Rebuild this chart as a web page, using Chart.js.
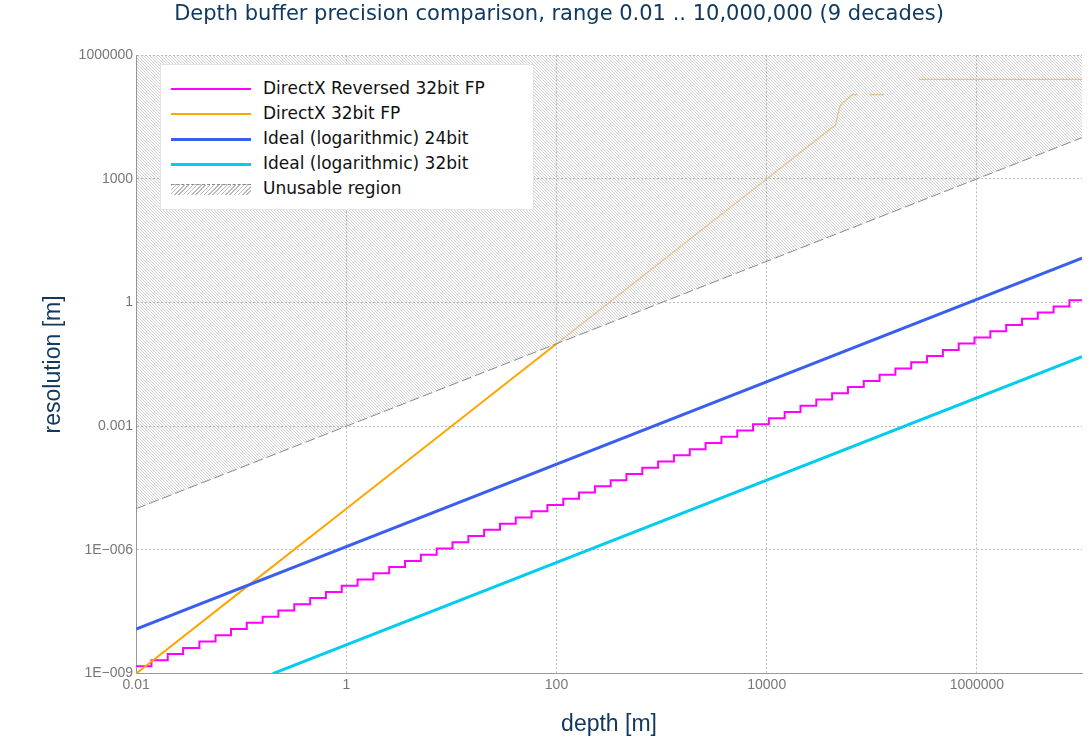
<!DOCTYPE html>
<html>
<head>
<meta charset="utf-8">
<script src="https://cdn.jsdelivr.net/npm/chart.js@4"></script>
<style>
  body { margin: 0; background: #fff; font-family: "DejaVu Sans", sans-serif; }
  #wrap { position: relative; width: 1090px; height: 750px; }
  #legend { position: absolute; left: 160px; top: 64px; width: 372px; height: 144px; background: #fff; border: 1px solid #e4e4e4; font-size: 17px; color: #111; }
  .row { position: absolute; left: 10px; height: 24px; line-height: 24px; }
  .sw { display: inline-block; width: 80px; height: 0; vertical-align: middle; margin-right: 12px; }
</style>
</head>
<body>
<div id="wrap">
  <canvas id="grafico" width="1090" height="750"></canvas>
  <div id="legend">
    <div class="row" style="top:11px"><span class="sw" style="border-top:2px solid #ff00ff"></span>DirectX Reversed 32bit FP</div>
    <div class="row" style="top:36px"><span class="sw" style="border-top:2px solid #ffa500"></span>DirectX 32bit FP</div>
    <div class="row" style="top:61px"><span class="sw" style="border-top:3px solid #3a5ef0"></span>Ideal (logarithmic) 24bit</div>
    <div class="row" style="top:86px"><span class="sw" style="border-top:3px solid #00ccee"></span>Ideal (logarithmic) 32bit</div>
    <div class="row" style="top:111px"><span class="sw" style="border-top:1px dashed #888;height:10px;background:repeating-linear-gradient(135deg,#bbb 0 1px,#fff 1px 3px)"></span>Unusable region</div>
  </div>
</div>
<script>
const xTicks = [0.01, 1, 100, 10000, 1000000]
const yTicks = [1e-9, 1e-6, 1e-3, 1, 1000, 1000000]
const yTickLabels = ['1E\u2212009', '1E\u2212006', '0.001', '1', '1000', '1000000']

const reversedX = [0.01,0.014,0.02,0.028,0.04,0.057,0.08,0.113,0.16,0.226,0.32,0.453,0.64,0.905,1.28,1.81,2.56,3.62,5.12,7.24,10.24,14.5,20.48,29,40.96,57.9,81.92,116,163.84,232,327.68,463,655.36,927,1310.72,1854,2621.44,3707,5242.88,7414,10485.76,14829,20971.52,29658,41943.04,59316,83886.08,118632,167772.16,237264,335544.32,474528,671088.64,949056,1342177.28,1898112,2684354.56,3796224,5368709.12,7592448,10737418.24]
const reversedY = [1.5e-9,2.1e-9,3e-9,4.2e-9,6e-9,8.5e-9,1.2e-8,1.7e-8,2.4e-8,3.4e-8,4.8e-8,6.8e-8,9.6e-8,1.36e-7,1.92e-7,2.7e-7,3.84e-7,5.4e-7,7.68e-7,1.09e-6,1.54e-6,2.17e-6,3.07e-6,4.34e-6,6.14e-6,8.7e-6,1.23e-5,1.74e-5,2.46e-5,3.48e-5,4.92e-5,6.95e-5,9.83e-5,1.39e-4,1.97e-4,2.78e-4,3.93e-4,5.56e-4,7.86e-4,1.11e-3,1.57e-3,2.22e-3,3.15e-3,4.45e-3,6.29e-3,8.9e-3,1.26e-2,1.78e-2,2.52e-2,3.56e-2,5.03e-2,7.1e-2,0.101,0.142,0.201,0.285,0.403,0.57,0.805,1.14,1.61]

const dxX = [0.01, 0.1, 1, 10, 100]
const dxY = [1e-9, 1e-7, 1e-5, 1e-3, 0.1]
const dxPaleX = [100, 10000, 30000, 45000, 50000, 65000, 74000, 74000, 95000, 130000, 130000, 280000, 10000000]
const dxPaleY = [0.1, 1000, 9000, 20000, 60000, 110000, 110000, null, 110000, 110000, null, 260000, 260000]

const ideal24X = [0.01, 10000000]
const ideal24Y = [1.2e-8, 12]
const ideal32X = [0.2, 10000000]
const ideal32Y = [1e-9, 0.049]
const unusableX = [0.01, 10000000]
const unusableY = [1e-5, 10000]

const pts = (xs, ys) => xs.map((x, i) => ({x: x, y: ys[i]}))

const hachura = {
    id: 'hachura',
    beforeDatasetsDraw(chart) {
        const {ctx, chartArea: a, scales: {x, y}} = chart
        ctx.save()
        ctx.beginPath()
        ctx.rect(a.left, a.top, a.right - a.left, a.bottom - a.top)
        ctx.clip()
        ctx.beginPath()
        ctx.moveTo(x.getPixelForValue(unusableX[0]), y.getPixelForValue(unusableY[0]))
        ctx.lineTo(x.getPixelForValue(unusableX[1]), y.getPixelForValue(unusableY[1]))
        ctx.lineTo(a.right, a.top)
        ctx.lineTo(a.left, a.top)
        ctx.closePath()
        ctx.clip()
        ctx.strokeStyle = 'rgba(120,120,120,0.55)'
        ctx.lineWidth = 0.7
        for (let k = -800; k < 1200; k += 3) {
            ctx.beginPath()
            ctx.moveTo(a.left + k, a.top)
            ctx.lineTo(a.left + k + 700, a.top + 700)
            ctx.stroke()
        }
        ctx.restore()
    }
}

new Chart(document.getElementById('grafico'), {
    type: 'line',
    data: {
        datasets: [
            {label: 'Unusable region', data: pts(unusableX, unusableY), borderColor: '#888', borderWidth: 1, borderDash: [10, 4], pointRadius: 0},
            {label: 'pale', data: pts(dxPaleX, dxPaleY), borderColor: 'rgba(230,180,110,0.8)', borderWidth: 1.2, pointRadius: 0, spanGaps: false},
            {label: 'Ideal (logarithmic) 32bit', data: pts(ideal32X, ideal32Y), borderColor: '#00ccee', borderWidth: 3, pointRadius: 0},
            {label: 'Ideal (logarithmic) 24bit', data: pts(ideal24X, ideal24Y), borderColor: '#3a5ef0', borderWidth: 3, pointRadius: 0},
            {label: 'DirectX 32bit FP', data: pts(dxX, dxY), borderColor: '#ffa500', borderWidth: 2, pointRadius: 0},
            {label: 'DirectX Reversed 32bit FP', data: pts(reversedX, reversedY), borderColor: '#ff00ff', borderWidth: 2, pointRadius: 0, stepped: true}
        ]
    },
    options: {
        responsive: false,
        animation: false,
        events: [],
        layout: {padding: {right: 8, top: 0, left: 36, bottom: 8}},
        plugins: {
            legend: {display: false},
            title: {display: true, text: 'Depth buffer precision comparison, range 0.01 .. 10,000,000 (9 decades)', color: '#123a60', font: {size: 21, family: 'DejaVu Sans', weight: 'normal'}, padding: {top: 2, bottom: 28}}
        },
        scales: {
            x: {
                type: 'logarithmic', min: 0.01, max: 10000000,
                afterBuildTicks: s => { s.ticks = xTicks.map(v => ({value: v})) },
                ticks: {callback: v => String(v), color: '#777', font: {size: 14}, maxRotation: 0},
                grid: {color: '#bbb', tickLength: 0},
                border: {color: '#999', dash: [2, 2]},
                title: {display: true, text: 'depth [m]', color: '#123a60', font: {size: 23}, padding: {top: 14}}
            },
            y: {
                type: 'logarithmic', min: 1e-9, max: 1e6,
                afterBuildTicks: s => { s.ticks = yTicks.map(v => ({value: v})) },
                ticks: {callback: (v, i) => yTickLabels[i], color: '#777', font: {size: 14}},
                grid: {color: '#bbb', tickLength: 0},
                border: {color: '#999', dash: [2, 2]},
                title: {display: true, text: 'resolution [m]', color: '#123a60', font: {size: 23}, padding: {bottom: 8}}
            }
        }
    },
    plugins: [hachura]
})
</script>
</body>
</html>
